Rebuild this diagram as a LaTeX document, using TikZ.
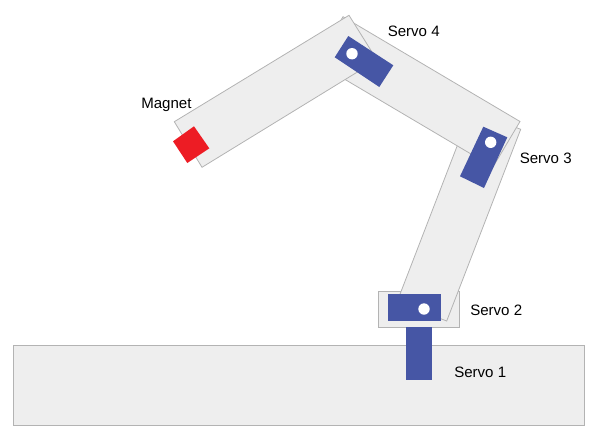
\documentclass[tikz,border=0pt]{standalone}
\usepackage{fontspec}
\setmainfont{Liberation Sans}
\usepackage{xcolor}
\definecolor{partgrey}{HTML}{EEEEEE}
\definecolor{edgegrey}{HTML}{B3B3B3}
\definecolor{servoblue}{HTML}{4656A5}
\definecolor{magnetred}{HTML}{ED1C24}

\begin{document}
\begin{tikzpicture}[x=0.75pt, y=-0.75pt,
    part/.style={fill=partgrey, draw=edgegrey, line width=0.6pt},
    servo/.style={fill=servoblue},
    hole/.style={fill=white},
    lab/.style={anchor=base west, inner sep=0pt, font=\fontsize{11.3}{13}\selectfont}]
  \useasboundingbox (0,0) rectangle (600,443);
  % base and bracket
  \draw[part] (13.3,345.3) rectangle (584,425.3);
  \draw[part] (378.7,291.7) rectangle (459.3,327.3);
  % links, lowest first
  \draw[part] (397,302) -- (471,110) -- (520.7,129.3) -- (446.7,321) -- cycle;
  \draw[part] (343,16.7) -- (520,121.5) -- (493,167) -- (316,62.3) -- cycle;
  \draw[part] (174.3,121.7) -- (349,15.3) -- (377,60) -- (202,167.3) -- cycle;
  % servos
  \fill[servo] (405.7,327) rectangle (432,380);
  \fill[servo] (387.7,294.3) rectangle (441.3,321);
  \fill[servo] (483.3,126.7) -- (507.3,137.3) -- (484,188) -- (460,176.3) -- cycle;
  \fill[servo] (348.3,36) -- (393.3,65.3) -- (379.3,87) -- (334.7,57.3) -- cycle;
  \foreach \x/\y in {424/309, 490.7/142.3, 352/53.7}{
    \fill[hole] (\x,\y) circle (5.7);
  }
  \fill[magnetred] (194,126.3) -- (209.3,148.3) -- (187.3,163) -- (173,141.3) -- cycle;
  % labels
  \foreach \x/\y/\lab/\nm in {454/377/Servo 1/servoa, 470/315.3/Servo 2/servob,
      519.5/163.5/Servo 3/servoc, 387.5/36/Servo 4/servod, 141/108.3/Magnet/magnet}{
    \node[lab] (\nm) at (\x,\y) {\lab};
  }
\end{tikzpicture}
\end{document}
